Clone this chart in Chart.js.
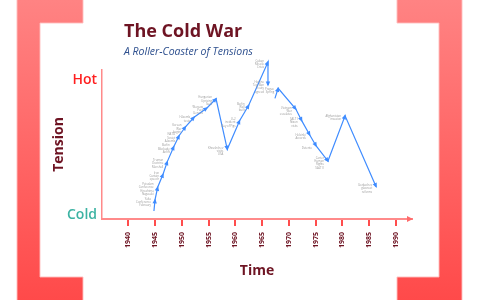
<!DOCTYPE html>
<html>
<head>
<meta charset="utf-8">
<script src="https://cdn.jsdelivr.net/npm/chart.js@4.4.0/dist/chart.umd.min.js"></script>
<style>
  html, body { margin: 0; padding: 0; background: #fff; }
  #wrap { position: relative; width: 480px; height: 300px; }
</style>
</head>
<body>
<div id="wrap"><canvas id="cold-war" width="480" height="300"></canvas></div>
<script>
// points of the roller-coaster (null tension = break in the line)
const years   = [1944.8, 1945.0, 1945.5, 1946.5, 1947.3, 1948.5, 1949.5, 1950.7, 1952.3, 1954.7, 1956.4,
                 1958.5, 1960.8, 1962.5, 1966.1, 1966.1, 1966.8, 1967.4, 1968.0, 1971.3, 1972.4, 1973.9,
                 1975.1, 1977.3, 1980.5, 1986.3];
const tension = [5.4, 12.8, 21.3, 30.0, 38.5, 48.5, 55.9, 61.9, 68.3, 74.5, 80.7,
                 46.8, 66.0, 76.3, 105.4, 89.9, null, 81.0, 87.7, 73.8, 66.0, 56.4,
                 49.0, 38.9, 69.3, 21.7];
const notes   = ['', 'Yalta\nConference\nFebruary', 'Potsdam\nConference\nHiroshima\nNagasaki', 'Iron\nCurtain\nspeech',
                 'Truman\nDoctrine\nMarshall', 'Berlin\nBlockade\nAirlift', 'NATO\nSoviet\nA-bomb', 'Korean\nWar\nbegins',
                 'H-bomb\ntests', 'Warsaw\nPact\nGeneva', 'Hungarian\nUprising\nSuez', 'Khrushchev\nvisits\nUSA',
                 'U-2\nincident\nBay of Pigs', 'Berlin\nWall\nbuilt', 'Cuban\nMissile\nCrisis', 'Hotline\nTest Ban\nTreaty\nagreed',
                 '', '', 'Prague\nSpring', 'Vietnam\nWar\nescalates', 'SALT I\nNixon\nvisits', 'Helsinki\nAccords',
                 'Detente', 'Carter\nHuman\nRights\nSALT II', 'Afghanistan\ninvasion', 'Gorbachev\nglasnost\nreforms'];
const tickYears   = [1940, 1945, 1950, 1955, 1960, 1965, 1970, 1975, 1980, 1985, 1990];
const levelLabels = ['Cold', 'Hot'];
const levelValues = [3, 93.5];

const MAROON = '#6e1423';
const LINE_BLUE = '#3f8cff';

function shape(ctx, pts) {
  ctx.beginPath();
  pts.forEach(([x, y], i) => i ? ctx.lineTo(x, y) : ctx.moveTo(x, y));
  ctx.closePath();
  ctx.fill();
  ctx.stroke();
}

const decorations = {
  id: 'decorations',
  beforeDraw(chart) {
    const ctx = chart.ctx;
    ctx.save();
    const grad = ctx.createLinearGradient(0, 0, 0, 300);
    grad.addColorStop(0, '#ff8383');
    grad.addColorStop(1, '#ff4a4a');
    ctx.fillStyle = grad;
    ctx.strokeStyle = 'rgba(255,190,190,0.9)';
    ctx.lineWidth = 1;
    shape(ctx, [[17, -1], [83, -1], [83, 23], [40, 23], [40, 277], [83, 277], [83, 301], [17, 301]]);
    shape(ctx, [[462, -1], [397, -1], [397, 23], [439, 23], [439, 277], [397, 277], [397, 301], [462, 301]]);

    ctx.textAlign = 'left';
    ctx.textBaseline = 'alphabetic';
    ctx.fillStyle = MAROON;
    ctx.font = 'bold 18px "Open Sans"';
    ctx.fillText('The Cold War', 124, 37);
    ctx.fillStyle = '#2d4f8e';
    ctx.font = 'italic 10.5px "Open Sans"';
    ctx.fillText('A Roller-Coaster of Tensions', 124, 54.5);
    ctx.restore();
  },
  afterDatasetsDraw(chart) {
    const ctx = chart.ctx;
    const pts = chart.getDatasetMeta(0).data;
    ctx.save();
    // arrow heads at every segment end
    ctx.fillStyle = LINE_BLUE;
    for (let i = 1; i < pts.length; i++) {
      if (tension[i] === null || tension[i - 1] === null) continue;
      const a = pts[i - 1], b = pts[i];
      const ang = Math.atan2(b.y - a.y, b.x - a.x);
      ctx.save();
      ctx.translate(b.x, b.y);
      ctx.rotate(ang);
      ctx.beginPath();
      ctx.moveTo(1.5, 0);
      ctx.lineTo(-3.5, -2.2);
      ctx.lineTo(-3.5, 2.2);
      ctx.closePath();
      ctx.fill();
      ctx.restore();
    }
    // tiny event notes
    ctx.fillStyle = '#999999';
    ctx.font = '2.8px "Open Sans"';
    ctx.textAlign = 'right';
    ctx.textBaseline = 'middle';
    pts.forEach((p, i) => {
      if (!notes[i] || tension[i] === null) return;
      const lines = notes[i].split('\n');
      const y0 = p.y + 2 - (lines.length - 1) * 1.6;
      lines.forEach((t, k) => ctx.fillText(t, p.x - 4, y0 + k * 3.2));
    });
    ctx.restore();
  },
  afterDraw(chart) {
    const ctx = chart.ctx;
    const x = chart.scales.x.right, y = chart.chartArea.bottom;
    ctx.save();
    ctx.fillStyle = '#ff6b6b';
    ctx.beginPath();
    ctx.moveTo(x + 1, y);
    ctx.lineTo(x - 5, y - 3);
    ctx.lineTo(x - 5, y + 3);
    ctx.closePath();
    ctx.fill();
    ctx.restore();
  }
};

Chart.defaults.font.family = '"Open Sans", sans-serif';

new Chart(document.getElementById('cold-war'), {
  type: 'line',
  data: {
    datasets: [{
      data: years.map((yr, i) => ({ x: yr, y: tension[i] })),
      borderColor: LINE_BLUE,
      borderWidth: 1.2,
      pointRadius: 0,
      tension: 0,
      spanGaps: false,
      clip: false
    }]
  },
  options: {
    responsive: false,
    animation: false,
    layout: { padding: { top: 70, right: 68, left: 0, bottom: 0 } },
    plugins: { legend: { display: false }, tooltip: { enabled: false } },
    scales: {
      x: {
        type: 'linear',
        min: 1935.1,
        max: 1993,
        afterBuildTicks: s => { s.ticks = tickYears.map(v => ({ value: v })); },
        afterFit: s => { s.height = 81; },
        ticks: {
          autoSkip: false,
          minRotation: 90,
          maxRotation: 90,
          padding: 6,
          color: MAROON,
          font: { size: 7, weight: 'bold' },
          callback: v => String(v)
        },
        grid: { drawOnChartArea: false, drawTicks: true, tickLength: 7, color: '#ff4d4d', lineWidth: 2 },
        border: { color: '#ff8a8a', width: 2 },
        title: { display: true, text: 'Time', color: MAROON, font: { size: 14, weight: 'bold' }, padding: { top: 0, bottom: 20.6 } }
      },
      y: {
        min: 0,
        max: 100,
        afterBuildTicks: s => { s.ticks = levelValues.map(v => ({ value: v })); },
        afterFit: s => { s.width = 102; },
        ticks: {
          padding: 5,
          color: c => c.index === 0 ? '#3cb3a3' : '#ff1f1f',
          font: { size: 14, weight: '600' },
          callback: (v, i) => levelLabels[i]
        },
        grid: { display: false, drawTicks: false },
        border: { color: '#ff8a8a', width: 1.5 },
        title: { display: true, text: 'Tension', color: MAROON, font: { size: 14, weight: 'bold' }, padding: { top: 50.6, bottom: 0 } }
      }
    }
  },
  plugins: [decorations]
});
</script>
</body>
</html>
